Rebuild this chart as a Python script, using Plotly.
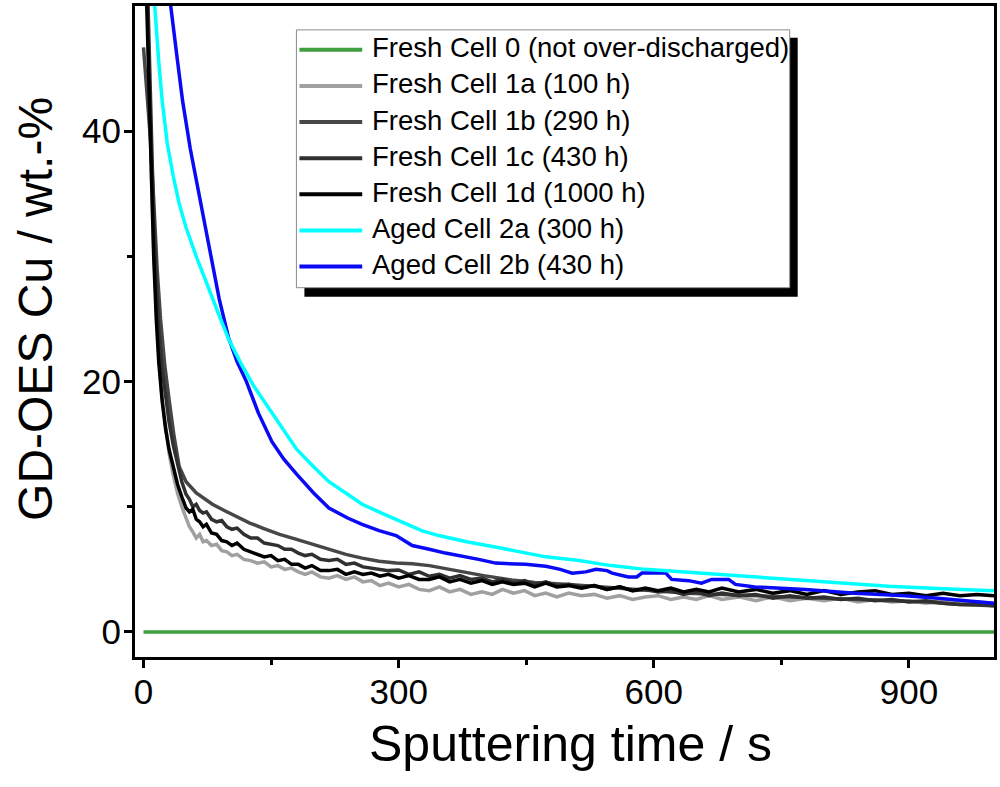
import plotly.graph_objects as go

# sputtering time in s, GD-OES Cu content in wt.-%
t_cell0 = [0, 1000]
cu_cell0 = [0, 0]

t_fresh = [3, 6, 9, 12, 15, 18, 22, 26, 30, 35,
           40, 45, 50, 54, 58, 62, 66, 70, 74, 80,
           86, 92, 98, 104, 110, 118, 126, 134, 142, 150,
           158, 166, 174, 182, 190, 198, 208, 218, 228, 238,
           248, 258, 268, 278, 288, 300, 312, 324, 336, 348,
           360, 372, 385, 398, 410, 422, 435, 448, 460, 473,
           486, 500, 515, 530, 545, 560, 575, 590, 605, 620,
           635, 650, 665, 680, 700, 720, 740, 760, 780, 800,
           820, 840, 860, 880, 900, 920, 940, 960, 980, 1000]

cu_1a = [55, 45, 37, 30.5, 25.5, 22, 18.6, 16.2, 14.3, 12.5,
         11.1, 10.0, 9.2, 8.4, 8.0, 7.5, 7.8, 7.2, 7.3, 6.9,
         7.0, 6.5, 6.4, 6.1, 6.2, 5.8, 5.7, 5.5, 5.6, 5.2,
         5.3, 5.0, 5.1, 4.8, 4.6, 4.8, 4.4, 4.3, 4.5, 4.2,
         4.4, 4.0, 4.1, 3.7, 3.9, 3.6, 3.8, 3.4, 3.3, 3.6,
         3.2, 3.4, 3.0, 3.2, 3.0, 3.4, 3.1, 3.3, 2.9, 3.1,
         2.8, 3.1, 2.9, 3.0, 2.7, 2.9, 2.6, 2.8, 2.9, 2.6,
         2.8, 2.6, 2.9, 2.6, 2.8, 2.5, 2.8, 2.5, 2.7, 2.5,
         2.7, 2.4, 2.6, 2.4, 2.5, 2.3, 2.5, 2.3, 2.4, 2.3]

cu_1c = [56, 48, 40, 33, 28, 24, 21, 18.6, 16.8, 14.9,
         13.3, 12.0, 11.0, 10.6, 10.0, 10.2, 9.7, 9.5, 9.6, 9.0,
         8.8, 8.9, 8.4, 8.2, 8.3, 7.8, 7.5, 7.5, 7.1, 7.0,
         6.9, 6.6, 6.6, 6.3, 6.1, 6.2, 5.8, 5.7, 5.8, 5.4,
         5.5, 5.2, 5.1, 5.0, 4.9, 4.95, 4.6, 4.8, 4.45, 4.6,
         4.3, 4.5, 4.2, 4.3, 4.0, 4.2, 3.9, 4.1, 3.8, 4.0,
         3.7, 3.8, 3.6, 3.7, 3.4, 3.6, 3.3, 3.4, 3.2, 3.3,
         3.0, 3.2, 2.9, 3.1, 2.9, 3.0, 2.7, 2.9, 2.7, 2.8,
         2.6, 2.7, 2.5, 2.6, 2.4, 2.5, 2.3, 2.2, 2.2, 2.1]

cu_1d = [52, 44, 37, 30, 25, 21.5, 18.4, 16.2, 14.6, 13.2,
         11.8, 10.8, 9.9, 9.6, 9.8, 9.0, 8.8, 8.4, 8.6, 7.9,
         7.8, 7.3, 7.2, 6.9, 7.1, 6.6, 6.4, 6.2, 6.0, 6.1,
         5.7, 5.8, 5.4, 5.4, 5.1, 5.3, 4.9, 4.9, 5.0, 4.6,
         4.8, 4.6, 4.7, 4.45, 4.6, 4.3, 4.5, 4.2, 4.2, 4.4,
         4.0, 4.2, 3.9, 4.1, 3.8, 4.0, 3.8, 3.9, 3.6, 3.9,
         3.6, 3.7, 3.5, 3.7, 3.4, 3.6, 3.3, 3.5, 3.3, 3.5,
         3.2, 3.4, 3.2, 3.5, 3.2, 3.4, 3.1, 3.3, 3.0, 3.3,
         3.0, 3.2, 3.3, 3.0, 3.1, 2.9, 3.1, 2.9, 3.0, 2.9]

t_1b = [0, 4, 8, 12, 16, 20, 25, 30, 36, 42,
        50, 62, 72, 81, 95, 109, 125, 140, 160, 180,
        200, 218, 238, 257, 277, 297, 316, 336, 360, 380,
        400, 433, 460, 500, 530, 560, 600, 640, 680, 720,
        760, 800, 840, 880, 920, 960, 1000]
cu_1b = [46.7, 43.5, 39.5, 34.5, 29, 25, 21.3, 18.6, 15.6, 13.2,
         12.0, 11.1, 10.6, 10.2, 9.7, 9.2, 8.7, 8.3, 7.8, 7.4,
         7.0, 6.6, 6.2, 5.9, 5.65, 5.5, 5.45, 5.3, 5.0, 4.7,
         4.5, 4.15, 3.95, 3.8, 3.65, 3.5, 3.3, 3.1, 3.0, 2.9,
         2.8, 2.7, 2.6, 2.5, 2.4, 2.2, 2.1]

t_2a = [8, 13, 18, 22, 28, 35, 42, 50, 62, 72,
        80, 90, 100, 115, 130, 140, 160, 180, 200, 218,
        240, 257, 280, 297, 327, 347, 380, 420, 473, 512,
        550, 590, 641, 700, 758, 820, 876, 940, 1000]
cu_2a = [57, 50.2, 45.5, 42.4, 39.0, 36.4, 34.2, 32.3, 30.0, 28.2,
         26.8, 25.1, 23.4, 21.4, 19.6, 18.6, 16.5, 14.6, 13.2, 12.0,
         11.0, 10.2, 9.5, 9.0, 8.1, 7.7, 7.2, 6.7, 6.0, 5.7,
         5.3, 5.0, 4.75, 4.45, 4.2, 3.9, 3.65, 3.45, 3.3]

t_2b = [25, 32, 40, 46, 55, 68, 78, 89, 100, 110,
        121, 135, 151, 165, 180, 200, 218, 240, 257, 277,
        297, 316, 336, 355, 394, 414, 449, 473, 490, 504,
        520, 532, 545, 551, 570, 580, 586, 614, 621, 641,
        656, 668, 688, 696, 719, 778, 837, 896, 934, 970,
        1000]
cu_2b = [56, 50, 45.6, 42.4, 38.6, 34.0, 30.3, 26.6, 23.5, 21.6,
         20.0, 17.5, 15.2, 13.8, 12.6, 11.1, 9.9, 9.1, 8.6, 8.1,
         7.7, 6.9, 6.6, 6.3, 5.8, 5.5, 5.4, 5.25, 5.0, 4.7,
         4.8, 5.0, 4.9, 4.7, 4.4, 4.4, 4.7, 4.7, 4.2, 4.1,
         3.9, 4.2, 4.2, 3.8, 3.6, 3.4, 3.1, 2.9, 2.7, 2.5,
         2.3]

names = ['Fresh Cell 0 (not over-discharged)', 'Fresh Cell 1a (100 h)',
         'Fresh Cell 1b (290 h)', 'Fresh Cell 1c (430 h)',
         'Fresh Cell 1d (1000 h)', 'Aged Cell 2a (300 h)', 'Aged Cell 2b (430 h)']
colors = ['#3f9f3f', '#a0a0a0', '#474747', '#303030', '#000000', '#00ffff', '#0a0af5']
series = [(t_cell0, cu_cell0), (t_fresh, cu_1a), (t_1b, cu_1b), (t_fresh, cu_1c),
          (t_fresh, cu_1d), (t_2a, cu_2a), (t_2b, cu_2b)]

font_name = 'Liberation Sans, Arial, sans-serif'

# plot area in pixels (figure is 1000 x 787)
left, right, top, bottom = 135, 997, 3, 657


def px_x(x):
    return (x - left) / (right - left)


def px_y(y):
    return (bottom - y) / (bottom - top)


traces = []
for (t, cu), name, color in zip(series, names, colors):
    traces.append(go.Scatter(x=t, y=cu, mode='lines', name=name,
                             line=dict(color=color, width=3.5),
                             showlegend=False))
# draw the black ones last so they sit on top like in the original
order = [1, 2, 3, 4, 6, 5, 0]
traces = [traces[i] for i in order]

# legend drawn by hand (long line samples + drop shadow)
shapes = [
    dict(type='rect', xref='paper', yref='paper', layer='above',
         x0=px_x(305), x1=px_x(800), y0=px_y(295), y1=px_y(35),
         fillcolor='black', line=dict(width=0)),
    dict(type='rect', xref='paper', yref='paper', layer='above',
         x0=px_x(297), x1=px_x(792), y0=px_y(286), y1=px_y(27),
         fillcolor='white', line=dict(color='#8c8c8c', width=1)),
]
annotations = []
for i, (name, color) in enumerate(zip(names, colors)):
    row_y = 47 + i * 36.3
    shapes.append(dict(type='line', xref='paper', yref='paper', layer='above',
                       x0=px_x(300), x1=px_x(363), y0=px_y(row_y), y1=px_y(row_y),
                       line=dict(color=color, width=4)))
    annotations.append(dict(x=px_x(371), y=px_y(row_y - 2), xref='paper', yref='paper',
                            text=name, showarrow=False, xanchor='left', yanchor='middle',
                            font=dict(family=font_name, size=27.5, color='black')))

annotations.append(dict(x=px_x(35), y=px_y(307), xref='paper', yref='paper',
                        text='GD-OES Cu / wt.-%', textangle=-90, showarrow=False,
                        xanchor='center', yanchor='middle',
                        font=dict(family=font_name, size=48, color='black')))
annotations.append(dict(x=px_x(572), y=px_y(744), xref='paper', yref='paper',
                        text='Sputtering time / s', showarrow=False,
                        xanchor='center', yanchor='middle',
                        font=dict(family=font_name, size=50, color='black')))

axis_style = dict(showline=True, linecolor='black', linewidth=3, mirror=True,
                  ticks='outside', ticklen=8, tickwidth=3, tickcolor='black',
                  showgrid=False, zeroline=False,
                  tickfont=dict(family=font_name, size=35, color='black'))

layout = go.Layout(
    width=1000, height=787,
    margin=dict(l=left, r=1000 - right, t=top, b=787 - bottom),
    paper_bgcolor='white', plot_bgcolor='white',
    xaxis=dict(range=[-10, 1000], tickvals=[0, 300, 600, 900], ticklabelstandoff=-6,
               minor=dict(tickvals=[150, 450, 750], ticks='outside', ticklen=5,
                          tickwidth=3, tickcolor='black'),
               **axis_style),
    yaxis=dict(range=[-2, 50], tickvals=[0, 20, 40], ticklabelstandoff=-4,
               minor=dict(tickvals=[10, 30], ticks='outside', ticklen=5,
                          tickwidth=3, tickcolor='black'),
               **axis_style),
    shapes=shapes,
    annotations=annotations,
)

fig = go.Figure(data=traces, layout=layout)
# the page body has an 8px default margin; remove it so the figure sits at 0,0
fig.write_html("out.html", config={'displayModeBar': False},
               post_script="document.body.style.margin = '0';")
